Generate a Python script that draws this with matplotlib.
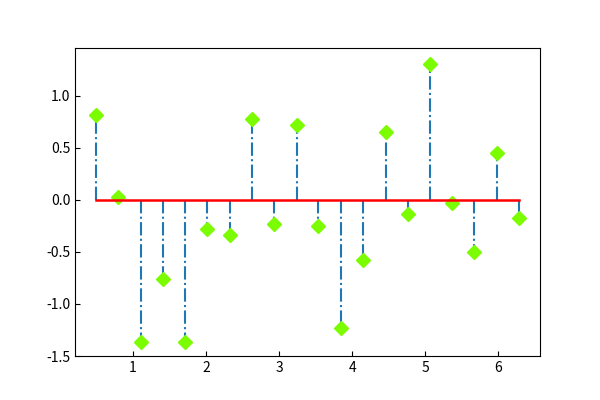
import matplotlib
matplotlib.use("Agg")
import matplotlib.pyplot as plt

plt.rcParams['font.family'] = ['Noto Sans CJK SC', 'DejaVu Sans']
plt.rcParams['axes.unicode_minus'] = False
plt.rcParams['xtick.direction'] = 'in'
plt.rcParams['ytick.direction'] = 'in'

x = [0.50, 0.80, 1.11, 1.41, 1.72, 2.02, 2.33, 2.63, 2.93, 3.24,
     3.54, 3.85, 4.15, 4.46, 4.76, 5.07, 5.37, 5.67, 5.98, 6.28]
y = [0.82, 0.03, -1.37, -0.76, -1.37, -0.28, -0.34, 0.78, -0.23, 0.72,
     -0.25, -1.23, -0.58, 0.65, -0.14, 1.31, -0.03, -0.50, 0.45, -0.17]

fig, ax = plt.subplots(figsize=(6, 4), dpi=100)
markerline, stemlines, baseline = ax.stem(x, y, linefmt='-.', markerfmt='D', basefmt='r-')
markerline.set_color('#7CFC00')
markerline.set_markersize(7)
stemlines.set_color('#1f77b4')
baseline.set_linewidth(1.8)
ax.set_ylim(-1.5, 1.46)
fig.savefig("out.png")
